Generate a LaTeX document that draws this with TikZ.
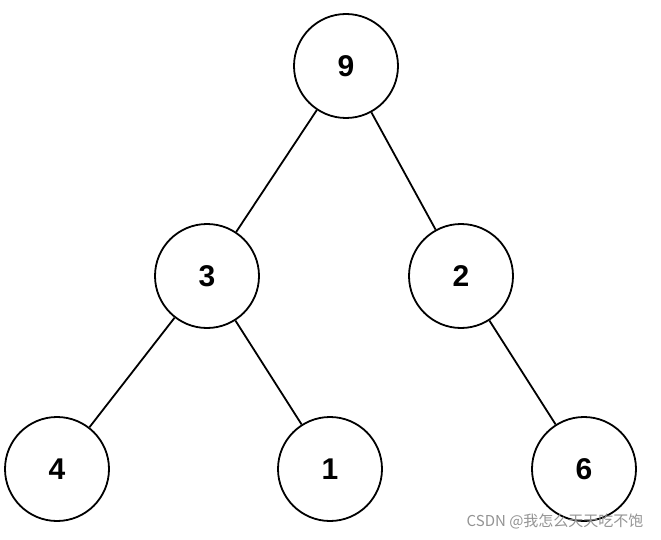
\documentclass[tikz,border=0pt]{standalone}
\usepackage{fontspec}
\setmainfont{Liberation Sans}
\newfontfamily\cjk{Noto Sans CJK SC}
\begin{document}
\begin{tikzpicture}[x=1pt,y=-1pt,
  tn/.style={circle,draw,line width=1.8pt,minimum size=104pt,inner sep=0pt,font=\fontsize{30}{30}\selectfont\bfseries},
  edge/.style={line width=1.8pt}]
\useasboundingbox (0,0) rectangle (661,540);
\node[tn] (n9) at (346,66) {9};
\node[tn] (n3) at (207,276) {3};
\node[tn] (n2) at (461,276) {2};
\node[tn] (n4) at (57,469) {4};
\node[tn] (n1) at (330,469) {1};
\node[tn] (n6) at (584,469) {6};
\draw[edge] (n9)--(n3);
\draw[edge] (n9)--(n2);
\draw[edge] (n3)--(n4);
\draw[edge] (n3)--(n1);
\draw[edge] (n2)--(n6);
\node[text=gray!85,font=\cjk\fontsize{15}{15}\selectfont,anchor=east] (wm) at (647,521) {CSDN @我怎么天天吃不饱};
\end{tikzpicture}
\end{document}
